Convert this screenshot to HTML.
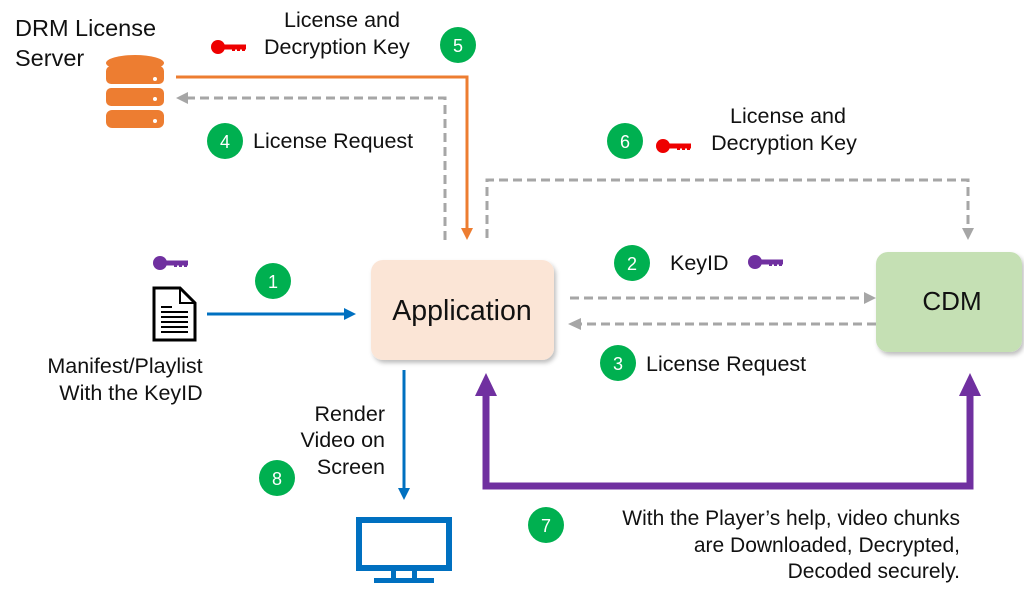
<!DOCTYPE html>
<html><head><meta charset="utf-8"><style>
body{margin:0;background:#fff;}
svg text{font-family:"Liberation Sans",sans-serif;fill:#111;}
</style></head><body>
<svg width="1024" height="602" viewBox="0 0 1024 602" xmlns="http://www.w3.org/2000/svg">
<defs>
<filter id="sh" x="-10%" y="-10%" width="130%" height="130%"><feDropShadow dx="2" dy="3" stdDeviation="2" flood-color="#000" flood-opacity="0.25"/></filter>
<g id="key"><circle cx="7" cy="5" r="7"/><rect x="10" y="2.5" width="25" height="5"/><rect x="21" y="5" width="3" height="4"/><rect x="26" y="5" width="3" height="4"/><rect x="31" y="5" width="3" height="4"/></g>
</defs>
<text x="15" y="36" font-size="23.5">DRM License</text>
<text x="15" y="66" font-size="23.5">Server</text>
<g fill="#ed7d31">
<ellipse cx="135" cy="63" rx="29" ry="8"/>
<rect x="106" y="66" width="58" height="18" rx="5"/>
<rect x="106" y="88" width="58" height="18" rx="5"/>
<rect x="106" y="110" width="58" height="18" rx="6"/>
</g>
<g fill="#fff"><circle cx="155" cy="79" r="2"/><circle cx="155" cy="99" r="2"/><circle cx="155" cy="121" r="2"/></g>
<polyline points="176,77 467,77 467,230" fill="none" stroke="#ed7d31" stroke-width="3"/>
<polygon points="461,228 473,228 467,240" fill="#ed7d31"/>
<polyline points="445,240 445,98 186,98" fill="none" stroke="#a6a6a6" stroke-width="3" stroke-dasharray="9,5"/>
<polygon points="188,92 188,104 176,98" fill="#a6a6a6"/>
<text x="342" y="27" font-size="21.5" text-anchor="middle">License and</text>
<text x="264" y="54" font-size="21.5">Decryption Key</text>
<use href="#key" x="211" y="42" fill="#e00"/>
<circle cx="458" cy="45" r="18" fill="#00b050"/><text x="458" y="52" font-size="18" text-anchor="middle" style="fill:#fff">5</text>
<circle cx="225" cy="141" r="18" fill="#00b050"/><text x="225" y="148" font-size="18" text-anchor="middle" style="fill:#fff">4</text>
<text x="253" y="148" font-size="21.5">License Request</text>
<polyline points="487,238 487,180 968,180 968,230" fill="none" stroke="#a6a6a6" stroke-width="3" stroke-dasharray="9,5"/>
<polygon points="962,228 974,228 968,240" fill="#a6a6a6"/>
<circle cx="625" cy="141" r="18" fill="#00b050"/><text x="625" y="148" font-size="18" text-anchor="middle" style="fill:#fff">6</text>
<use href="#key" x="656" y="141" fill="#e00"/>
<text x="788" y="123" font-size="21.5" text-anchor="middle">License and</text>
<text x="784" y="150" font-size="21.5" text-anchor="middle">Decryption Key</text>
<rect x="371" y="260" width="183" height="100" rx="12" fill="#fbe5d6" filter="url(#sh)"/>
<text x="462" y="320" font-size="28.5" text-anchor="middle">Application</text>
<rect x="876" y="252" width="146" height="100" rx="12" fill="#c5e0b4" filter="url(#sh)"/>
<text x="952" y="310" font-size="26" text-anchor="middle">CDM</text>
<circle cx="632" cy="263" r="18" fill="#00b050"/><text x="632" y="270" font-size="18" text-anchor="middle" style="fill:#fff">2</text>
<text x="670" y="270" font-size="21.5">KeyID</text>
<use href="#key" x="748" y="257" fill="#7030a0"/>
<line x1="570" y1="298" x2="866" y2="298" stroke="#a6a6a6" stroke-width="3" stroke-dasharray="9,5"/>
<polygon points="864,292 864,304 876,298" fill="#a6a6a6"/>
<line x1="876" y1="324" x2="579" y2="324" stroke="#a6a6a6" stroke-width="3" stroke-dasharray="9,5"/>
<polygon points="581,318 581,330 568,324" fill="#a6a6a6"/>
<circle cx="618" cy="363" r="18" fill="#00b050"/><text x="618" y="370" font-size="18" text-anchor="middle" style="fill:#fff">3</text>
<text x="646" y="371" font-size="21.5">License Request</text>
<use href="#key" x="153" y="258" fill="#7030a0"/>
<path d="M154,288 L180,288 L195,303 L195,340 L154,340 Z" fill="#fff" stroke="#000" stroke-width="3"/>
<path d="M180,288 L180,303 L195,303" fill="none" stroke="#000" stroke-width="2"/>
<g stroke="#000" stroke-width="2"><line x1="161" y1="307" x2="172" y2="307"/><line x1="161" y1="312" x2="188" y2="312"/><line x1="161" y1="317" x2="188" y2="317"/><line x1="161" y1="322" x2="188" y2="322"/><line x1="161" y1="327" x2="188" y2="327"/><line x1="161" y1="332" x2="188" y2="332"/></g>
<text x="125" y="373" font-size="21.5" text-anchor="middle">Manifest/Playlist</text>
<text x="131" y="400" font-size="21.5" text-anchor="middle">With the KeyID</text>
<circle cx="273" cy="281" r="18" fill="#00b050"/><text x="273" y="288" font-size="18" text-anchor="middle" style="fill:#fff">1</text>
<line x1="207" y1="314" x2="346" y2="314" stroke="#0070c0" stroke-width="3"/>
<polygon points="344,308 344,320 356,314" fill="#0070c0"/>
<line x1="404" y1="370" x2="404" y2="490" stroke="#0070c0" stroke-width="3"/>
<polygon points="398,488 410,488 404,500" fill="#0070c0"/>
<text x="385" y="421" font-size="21.5" text-anchor="end">Render</text>
<text x="385" y="447" font-size="21.5" text-anchor="end">Video on</text>
<text x="385" y="474" font-size="21.5" text-anchor="end">Screen</text>
<circle cx="277" cy="478" r="18" fill="#00b050"/><text x="277" y="485" font-size="18" text-anchor="middle" style="fill:#fff">8</text>
<rect x="359" y="520" width="90" height="48" fill="none" stroke="#0070c0" stroke-width="6"/>
<rect x="391" y="570" width="5" height="9" fill="#0070c0"/><rect x="412" y="570" width="5" height="9" fill="#0070c0"/>
<rect x="374" y="578" width="60" height="5" fill="#0070c0"/>
<polyline points="486,393 486,486 970,486 970,393" fill="none" stroke="#7030a0" stroke-width="7"/>
<polygon points="475,396 497,396 486,373" fill="#7030a0"/>
<polygon points="959,396 981,396 970,373" fill="#7030a0"/>
<circle cx="546" cy="525" r="18" fill="#00b050"/><text x="546" y="532" font-size="18" text-anchor="middle" style="fill:#fff">7</text>
<text x="960" y="525" font-size="21" text-anchor="end">With the Player’s help, video chunks</text>
<text x="960" y="552" font-size="21" text-anchor="end">are Downloaded, Decrypted,</text>
<text x="960" y="578" font-size="21" text-anchor="end">Decoded securely.</text>
</svg>
</body></html>
